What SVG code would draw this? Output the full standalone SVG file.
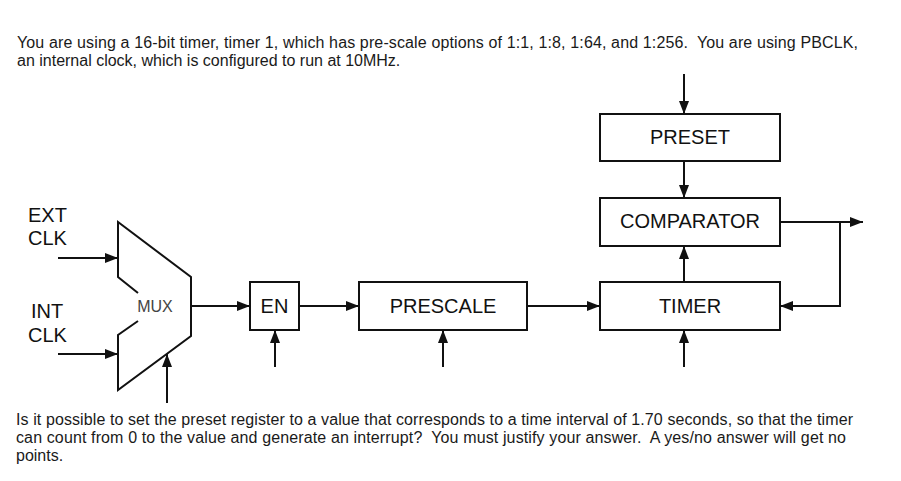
<svg xmlns="http://www.w3.org/2000/svg" width="901" height="481" viewBox="0 0 901 481">
  <defs>
    <marker id="arr" markerUnits="userSpaceOnUse" markerWidth="14" markerHeight="11" refX="13" refY="5" orient="auto">
      <path d="M0,0 L13,5 L0,10 Z" fill="#111"/>
    </marker>
    <style>
      .para { font-family: "Liberation Sans", Arial, sans-serif; font-size: 16px; fill: #1a1a1a; white-space: pre; }
      .lbl { font-family: "Liberation Sans", Arial, sans-serif; font-size: 20px; fill: #111; }
      .box { fill: #fff; stroke: #111; stroke-width: 2; }
      .wire { fill: none; stroke: #111; stroke-width: 2; }
      .arrow { fill: none; stroke: #111; stroke-width: 2; marker-end: url(#arr); }
    </style>
  </defs>
  <rect width="901" height="481" fill="#fff"/>

  <g id="question-top">
    <text class="para" x="17" y="48" xml:space="preserve" textLength="841" lengthAdjust="spacing">You are using a 16-bit timer, timer 1, which has pre-scale options of 1:1, 1:8, 1:64, and 1:256.  You are using PBCLK,</text>
    <text class="para" x="17" y="66">an internal clock, which is configured to run at 10MHz.</text>
  </g>

  <g id="question-bottom">
    <text class="para" x="16" y="425" textLength="837" lengthAdjust="spacing">Is it possible to set the preset register to a value that corresponds to a time interval of 1.70 seconds, so that the timer</text>
    <text class="para" x="16" y="443" xml:space="preserve" textLength="830" lengthAdjust="spacing">can count from 0 to the value and generate an interrupt?  You must justify your answer.  A yes/no answer will get no</text>
    <text class="para" x="16" y="461">points.</text>
  </g>

  <g id="connectors">
    <line class="arrow" x1="58" y1="258" x2="118" y2="258"/>
    <line class="arrow" x1="58" y1="354" x2="118" y2="354"/>
    <line class="arrow" x1="167" y1="403" x2="167" y2="354"/>
    <line class="arrow" x1="191" y1="306" x2="250" y2="306"/>
    <line class="arrow" x1="275" y1="367" x2="275" y2="330"/>
    <line class="arrow" x1="299" y1="306" x2="359" y2="306"/>
    <line class="arrow" x1="443" y1="367" x2="443" y2="330"/>
    <line class="arrow" x1="527" y1="306" x2="600" y2="306"/>
    <line class="arrow" x1="684" y1="367" x2="684" y2="330"/>
    <line class="arrow" x1="684" y1="282" x2="684" y2="246"/>
    <line class="arrow" x1="684" y1="161" x2="684" y2="198"/>
    <line class="arrow" x1="684" y1="74" x2="684" y2="114"/>
    <line class="arrow" x1="780" y1="222" x2="863" y2="222"/>
    <polyline class="arrow" points="840,222 840,306 780,306"/>
  </g>

  <g id="ext-clk">
    <text class="lbl" x="28" y="222">EXT</text>
    <text class="lbl" x="28" y="245">CLK</text>
  </g>
  <g id="int-clk">
    <text class="lbl" x="31" y="318">INT</text>
    <text class="lbl" x="28" y="342">CLK</text>
  </g>

  <g id="mux">
    <path class="wire" d="M138,293 L118,277 L118,222 L191,277 L191,336 L118,390 L118,335 L138,321"/>
    <text x="155" y="311.5" text-anchor="middle" font-family="'Liberation Sans', Arial, sans-serif" font-size="16" fill="#444">MUX</text>
  </g>

  <g id="en">
    <rect class="box" x="250" y="282" width="49" height="48"/>
    <text class="lbl" x="274.5" y="313" text-anchor="middle">EN</text>
  </g>

  <g id="prescale">
    <rect class="box" x="359" y="282" width="168" height="48"/>
    <text class="lbl" x="443" y="312.5" text-anchor="middle">PRESCALE</text>
  </g>

  <g id="timer">
    <rect class="box" x="600" y="282" width="180" height="48"/>
    <text class="lbl" x="690" y="312.5" text-anchor="middle">TIMER</text>
  </g>

  <g id="comparator">
    <rect class="box" x="600" y="198" width="180" height="48"/>
    <text class="lbl" x="690" y="228" text-anchor="middle">COMPARATOR</text>
  </g>

  <g id="preset">
    <rect class="box" x="600" y="114" width="180" height="47"/>
    <text class="lbl" x="690" y="143.5" text-anchor="middle">PRESET</text>
  </g>
</svg>
